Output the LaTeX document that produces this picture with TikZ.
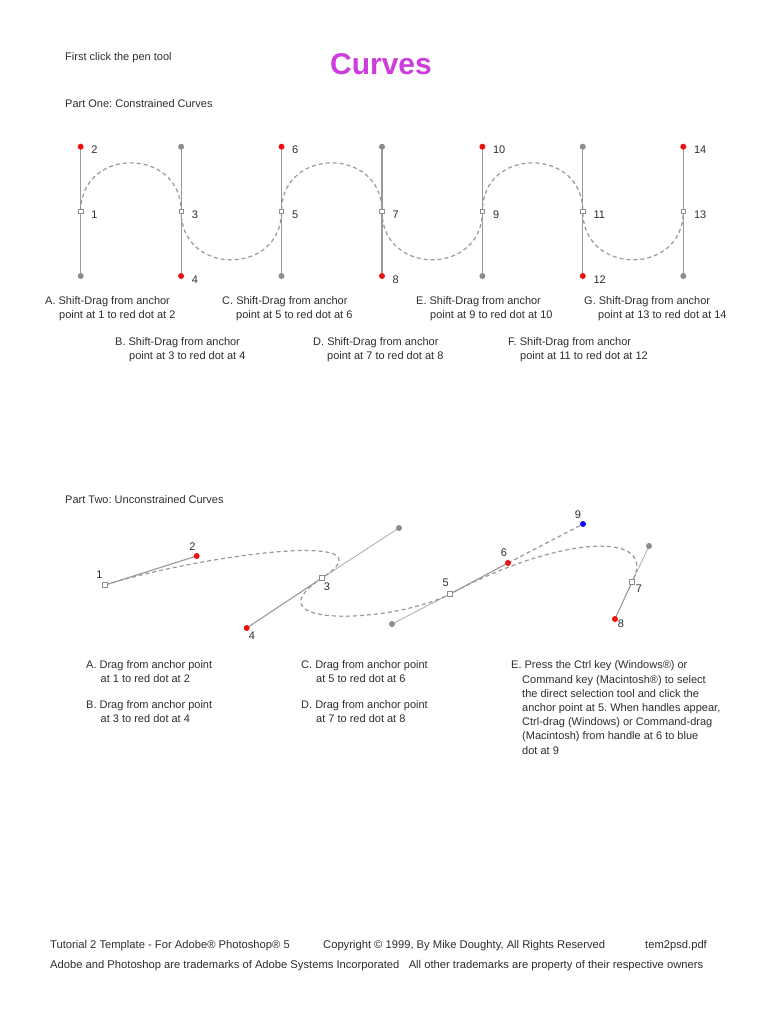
\documentclass[tikz,border=0pt]{standalone}
\usepackage{fontspec}
\setmainfont{Liberation Sans}
\frenchspacing
\definecolor{txtc}{HTML}{2E2E2E}
\definecolor{titlec}{RGB}{205,60,220}
\definecolor{reddc}{HTML}{EE1111}
\definecolor{bluec}{HTML}{1111EE}
\definecolor{dotgray}{HTML}{8C8C8C}
\definecolor{linegray}{HTML}{999999}
\definecolor{lightline}{HTML}{AAAAAA}
\definecolor{curvegray}{HTML}{999999}
\begin{document}
\frenchspacing
\begin{tikzpicture}[x=1pt,y=-1pt,
  txt/.style={anchor=base west, inner sep=0pt, font=\fontsize{11}{13}\selectfont\frenchspacing, text=txtc},
  foot/.style={anchor=base west, inner sep=0pt, font=\fontsize{11.2}{13}\selectfont\frenchspacing, text=txtc},
  num/.style={anchor=west, inner sep=0pt, font=\fontsize{11}{13}\selectfont, text=txtc},
  numc/.style={anchor=center, inner sep=0pt, font=\fontsize{11}{13}\selectfont, text=txtc},
  reddot/.style={circle, fill=reddc, inner sep=0pt, minimum size=6pt},
  bluedot/.style={circle, fill=bluec, inner sep=0pt, minimum size=6pt},
  graydot/.style={circle, fill=dotgray, inner sep=0pt, minimum size=6pt},
  anch/.style={rectangle, draw=dotgray, fill=white, inner sep=0pt, minimum size=4.5pt, line width=0.7pt},
  handle/.style={draw=linegray, line width=1.1pt},
  handlelt/.style={draw=lightline, line width=0.8pt},
  curve/.style={draw=curvegray, dash pattern=on 4pt off 3pt, line width=1.2pt}
]
\useasboundingbox[fill=white] (0,0) rectangle (768,1024);

% header
\node[txt] (first) at (65,61) {First click the pen tool};
\node[anchor=base, inner sep=0pt, font=\fontsize{30}{32}\selectfont\bfseries, text=titlec] (title) at (381,75) {Curves};
\node[txt] (partone) at (65,108) {Part One: Constrained Curves};

% Part One geometry
\foreach \i/\xx in {1/80.7,2/181.1,3/281.5,4/382.0,5/482.4,6/582.8,7/683.3}{
  \coordinate (A\i) at (\xx,211.3);
  \coordinate (T\i) at (\xx,146.7);
  \coordinate (B\i) at (\xx,276);
  \draw[handle] (T\i) -- (B\i);
}
\draw[curve] (A1) .. controls (T1) and (T2) .. (A2)
             .. controls (B2) and (B3) .. (A3)
             .. controls (T3) and (T4) .. (A4)
             .. controls (B4) and (B5) .. (A5)
             .. controls (T5) and (T6) .. (A6)
             .. controls (B6) and (B7) .. (A7);
\foreach \i in {1,3,5,7}{
  \node[reddot] (rd\i) at (T\i) {};
  \node[graydot] (gd\i) at (B\i) {};
}
\foreach \i in {2,4,6}{
  \node[reddot] (rd\i) at (B\i) {};
  \node[graydot] (gd\i) at (T\i) {};
}
\foreach \i in {1,...,7}{
  \node[anch] (sq\i) at (A\i) {};
  \pgfmathtruncatemacro\na{2*\i-1}
  \node[num] (ln\i) at ([xshift=10.5pt,yshift=-3.6pt]A\i) {\na};
}
\foreach \i in {1,3,5,7}{
  \pgfmathtruncatemacro\nb{2*\i}
  \node[num] (lr\i) at ([xshift=10.5pt,yshift=-3.4pt]T\i) {\nb};
}
\foreach \i in {2,4,6}{
  \pgfmathtruncatemacro\nb{2*\i}
  \node[num] (lr\i) at ([xshift=10.5pt,yshift=-3.3pt]B\i) {\nb};
}

% Part One captions
\node[txt] (ca1) at (45,304.5) {A. Shift-Drag from anchor};
\node[txt] (ca2) at (59,318.5) {point at 1 to red dot at 2};
\node[txt] (cc1) at (222,304.5) {C. Shift-Drag from anchor};
\node[txt] (cc2) at (236,318.5) {point at 5 to red dot at 6};
\node[txt] (ce1) at (416,304.5) {E. Shift-Drag from anchor};
\node[txt] (ce2) at (430,318.5) {point at 9 to red dot at 10};
\node[txt] (cg1) at (584,304.5) {G. Shift-Drag from anchor};
\node[txt] (cg2) at (598,318.5) {point at 13 to red dot at 14};
\node[txt] (cb1) at (115,345.5) {B. Shift-Drag from anchor};
\node[txt] (cb2) at (129,359.5) {point at 3 to red dot at 4};
\node[txt] (cd1) at (313,345.5) {D. Shift-Drag from anchor};
\node[txt] (cd2) at (327,359.5) {point at 7 to red dot at 8};
\node[txt] (cf1) at (508,345.5) {F. Shift-Drag from anchor};
\node[txt] (cf2) at (520,359.5) {point at 11 to red dot at 12};

% Part Two
\node[txt] (parttwo) at (65,503) {Part Two: Unconstrained Curves};

\coordinate (P1) at (105,585);
\coordinate (R2) at (196.7,556);
\coordinate (P3) at (322,578);
\coordinate (G3) at (399,528);
\coordinate (R4) at (246.7,628);
\coordinate (P5) at (450,594);
\coordinate (R6) at (508,563);
\coordinate (G5) at (392,624);
\coordinate (P7) at (632,582);
\coordinate (G7) at (649,546);
\coordinate (R8) at (615,619);
\coordinate (B9) at (583,524);
\coordinate (c1) at (560,535);
\coordinate (c2) at (660,530);

\draw[handle] (P1) -- (R2);
\draw[handle] (P3) -- (R4);
\draw[handlelt] (P3) -- (G3);
\draw[handle] (P5) -- (R6);
\draw[handlelt] (P5) -- (G5);
\draw[handle] (P7) -- (R8);
\draw[handlelt] (P7) -- (G7);
\draw[curve] (R6) -- (B9);
\draw[curve] (P1) .. controls (R2) and (G3) .. (P3)
             .. controls (R4) and (G5) .. (P5)
             .. controls (c1) and (c2) .. (P7);

\node[reddot] (q2) at (R2) {};
\node[reddot] (q4) at (R4) {};
\node[reddot] (q6) at (R6) {};
\node[reddot] (q8) at (R8) {};
\node[bluedot] (q9) at (B9) {};
\node[graydot] (qg3) at (G3) {};
\node[graydot] (qg5) at (G5) {};
\node[graydot] (qg7) at (G7) {};
\node[anch] (q1) at (P1) {};
\node[anch] (q3) at (P3) {};
\node[anch] (q5) at (P5) {};
\node[anch] (q7) at (P7) {};

\node[numc] (n1) at (99.5,575) {1};
\node[numc] (n2) at (192.5,546.5) {2};
\node[numc] (n3) at (327,586.5) {3};
\node[numc] (n4) at (252,636) {4};
\node[numc] (n5) at (445.7,582.3) {5};
\node[numc] (n6) at (504,552.5) {6};
\node[numc] (n7) at (639,588.5) {7};
\node[numc] (n8) at (621,624) {8};
\node[numc] (n9) at (578,514.5) {9};

% Part Two captions
\node[txt] (ta1) at (86,668.5) {A. Drag from anchor point};
\node[txt] (ta2) at (100.5,682.5) {at 1 to red dot at 2};
\node[txt] (tb1) at (86,708.5) {B. Drag from anchor point};
\node[txt] (tb2) at (100.5,722.5) {at 3 to red dot at 4};
\node[txt] (tc1) at (301,668.5) {C. Drag from anchor point};
\node[txt] (tc2) at (316,682.5) {at 5 to red dot at 6};
\node[txt] (td1) at (301,708.5) {D. Drag from anchor point};
\node[txt] (td2) at (316,722.5) {at 7 to red dot at 8};
\node[txt] (te1) at (511,668.8) {E. Press the Ctrl key (Windows®) or};
\node[txt] (te2) at (522,683.0) {Command key (Macintosh®) to select};
\node[txt] (te3) at (522,697.2) {the direct selection tool and click the};
\node[txt] (te4) at (522,711.4) {anchor point at 5. When handles appear,};
\node[txt] (te5) at (522,725.6) {Ctrl-drag (Windows) or Command-drag};
\node[txt] (te6) at (522,739.8) {(Macintosh) from handle at 6 to blue};
\node[txt] (te7) at (522,754.0) {dot at 9};

% footer
\node[foot] (f1) at (50,948.5) {Tutorial 2 Template - For Adobe® Photoshop® 5};
\node[foot] (f2) at (323,948.5) {Copyright © 1999, By Mike Doughty, All Rights Reserved};
\node[foot] (f3) at (645,948.5) {tem2psd.pdf};
\node[foot] (f4) at (50,968) {Adobe and Photoshop are trademarks of Adobe Systems Incorporated\ \ \ All other trademarks are property of their respective owners};
\end{tikzpicture}
\end{document}
